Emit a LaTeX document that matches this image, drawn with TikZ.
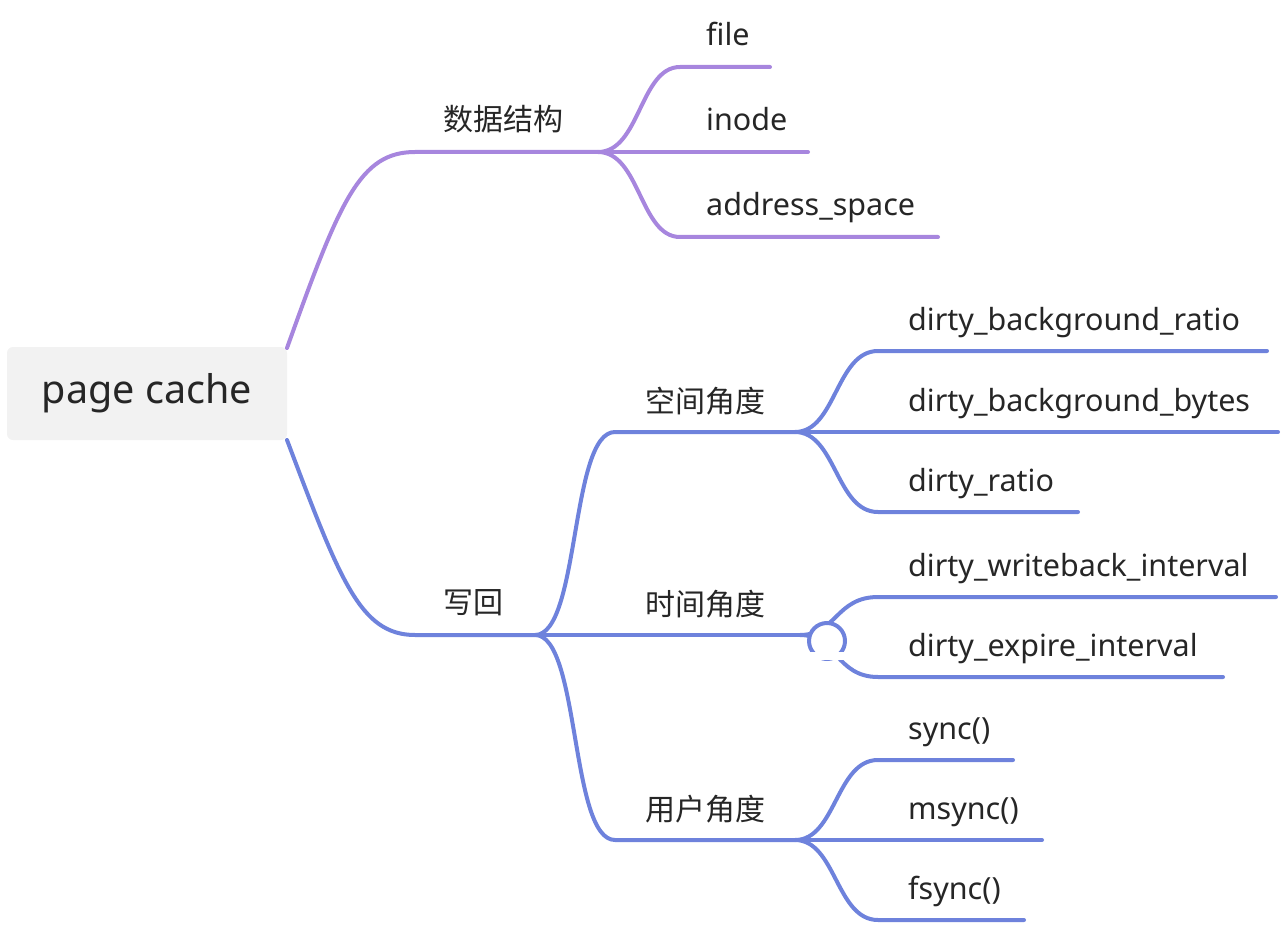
\documentclass[tikz,border=0pt]{standalone}
\usepackage{fontspec}
\setmainfont{Noto Sans}
\newfontfamily\cjk{Noto Sans CJK SC}
\definecolor{pur}{RGB}{167,134,222}
\definecolor{blu}{RGB}{110,130,220}
\begin{document}
\begin{tikzpicture}[x=1pt,y=-1pt,
 lbl/.style={anchor=base west,font=\fontsize{30.5}{32}\selectfont,text=black!85,inner sep=0},
 cl/.style={anchor=base west,font=\cjk\fontsize{30}{32}\selectfont,text=black!85,inner sep=0},
 pb/.style={draw=pur,line width=4pt,line cap=round},
 bb/.style={draw=blu,line width=4pt,line cap=round}]
\useasboundingbox (0,0) rectangle (1281,925);
\node[fill=black!5,rounded corners=6pt,minimum width=280,minimum height=93,font=\fontsize{39.5}{42}\selectfont,text=black!85] (root) at (147,393.5) {page cache};
\coordinate (rt) at (287,348); \coordinate (rb) at (287,440);
% data structures
\coordinate (a0) at (415,152); \coordinate (a1) at (598,152);
\draw[pb] (rt) .. controls (340,200) and (360,152) .. (a0) -- (a1);
\node[cl] (ta) at (443,131) {数据结构};
\foreach \n/\y/\e/\t in {f/67/770/file,i/152/808/inode,s/237/938/address\_space}{
 \coordinate (\n0) at (680,\y); \coordinate (\n1) at (\e,\y);
 \draw[pb] (a1) .. controls (640,152) and (640,\y) .. (\n0) -- (\n1);
 \node[lbl] (t\n) at (706,\y-21) {\t};}
% writeback
\coordinate (b0) at (415,635); \coordinate (b1) at (535,635);
\draw[bb] (rb) .. controls (340,580) and (360,635) .. (b0) -- (b1);
\node[cl] (tb) at (443,613) {写回};
\foreach \n/\y/\e/\t in {k/432/795/空间角度,m/635/800/时间角度,u/840/795/用户角度}{
 \coordinate (\n0) at (615,\y); \coordinate (\n1) at (\e,\y);
 \draw[bb] (b1) .. controls (580,635) and (570,\y) .. (\n0) -- (\n1);
 \node[cl] (t\n) at (645,\y-20) {\t};}
\foreach \p/\py/\n/\y/\e/\t in {k/432/k1/351/1267/dirty\_background\_ratio,k/432/k2/432/1278/dirty\_background\_bytes,k/432/k3/512/1078/dirty\_ratio,
 m/635/m1/597/1276/dirty\_writeback\_interval,m/635/m2/677/1223/dirty\_expire\_interval,
 u/840/u1/760/1013/sync(),u/840/u2/840/1042/msync(),u/840/u3/920/1024/fsync()}{
 \coordinate (\n a) at (878,\y); \coordinate (\n b) at (\e,\y);
 \draw[bb] (\p1) .. controls (836,\py) and (836,\y) .. (\n a) -- (\n b);
 \node[lbl] (t\n) at (908,\y-21) {\t};}
\node[circle,draw=blu,fill=white,line width=4pt,minimum size=36pt,inner sep=0] (col) at (827,641) {};
\fill[white] (805,652) rectangle (850,660);
\end{tikzpicture}
\end{document}
